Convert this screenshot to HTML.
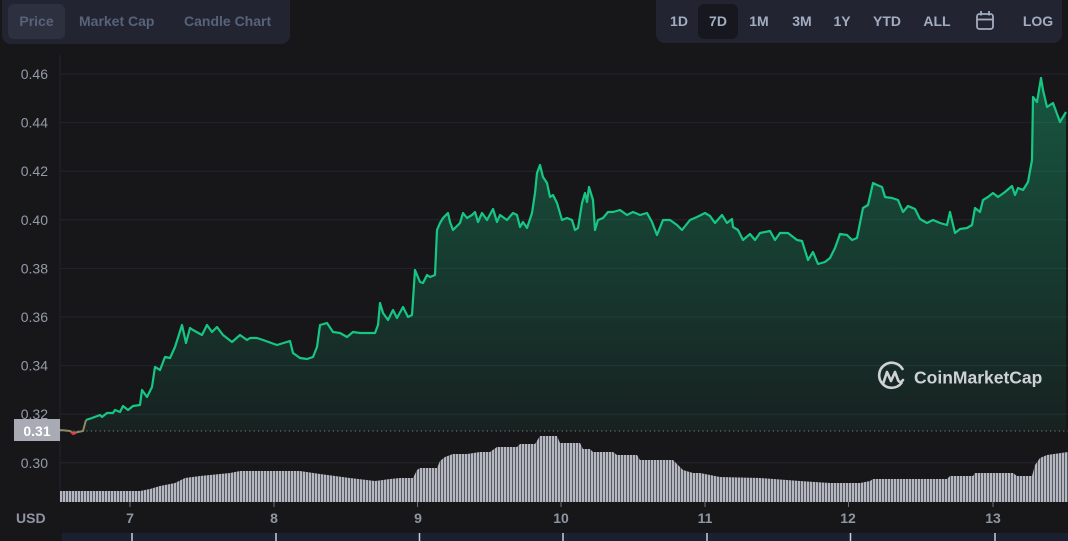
<!DOCTYPE html>
<html><head><meta charset="utf-8">
<style>
html,body{margin:0;padding:0;background:#17171a;}
body{width:1068px;height:541px;overflow:hidden;position:relative;font-family:"Liberation Sans",sans-serif;}
svg{position:absolute;left:0;top:0;}
</style></head>
<body>
<svg width="1068" height="541" viewBox="0 0 1068 541" xmlns="http://www.w3.org/2000/svg">
  <defs>
    <linearGradient id="fillg" gradientUnits="userSpaceOnUse" x1="0" y1="78" x2="0" y2="431">
      <stop offset="0" stop-color="#16c784" stop-opacity="0.36"/>
      <stop offset="1" stop-color="#16c784" stop-opacity="0.06"/>
    </linearGradient>
    <pattern id="vol" patternUnits="userSpaceOnUse" width="3" height="10">
      <rect x="0" y="0" width="3" height="10" fill="#55585f"/>
      <rect x="0" y="0" width="2" height="10" fill="#b4b7bf"/>
    </pattern>
  </defs>
  <rect width="1068" height="541" fill="#17171a"/>

  <!-- top left group -->
  <rect x="2" y="-8" width="288" height="52" rx="9" fill="#222531"/>
  <rect x="8" y="4" width="57" height="35" rx="6" fill="#2c303f"/>
  <g font-family="Liberation Sans, sans-serif" font-size="14" font-weight="bold" fill="#58627a">
    <text x="36.5" y="26" text-anchor="middle">Price</text>
    <text x="79" y="26">Market Cap</text>
    <text x="184" y="26">Candle Chart</text>
  </g>

  <!-- top right group -->
  <rect x="656" y="-8" width="406" height="51" rx="9" fill="#222531"/>
  <rect x="698" y="4" width="40" height="35" rx="6" fill="#17181f"/>
  <g font-family="Liberation Sans, sans-serif" font-size="14" font-weight="bold" fill="#a3adc0" text-anchor="middle">
    <text x="679" y="26">1D</text>
    <text x="718" y="26">7D</text>
    <text x="759" y="26">1M</text>
    <text x="802" y="26">3M</text>
    <text x="842" y="26">1Y</text>
    <text x="887" y="26">YTD</text>
    <text x="937" y="26">ALL</text>
    <text x="1038" y="26">LOG</text>
  </g>
  <g stroke="#a3adc0" stroke-width="1.8" fill="none">
    <rect x="977" y="14" width="16" height="15" rx="2.5"/>
    <line x1="977" y1="19.5" x2="993" y2="19.5"/>
    <line x1="981" y1="11" x2="981" y2="15.5"/>
    <line x1="989" y1="11" x2="989" y2="15.5"/>
  </g>

  <!-- grid -->
  <line x1="60" y1="55" x2="60" y2="502" stroke="#23252e" stroke-width="1"/>
  <g stroke="#23252e" stroke-width="1">
    <line x1="60" y1="74" x2="1068" y2="74"/>
    <line x1="60" y1="122.6" x2="1068" y2="122.6"/>
    <line x1="60" y1="171.2" x2="1068" y2="171.2"/>
    <line x1="60" y1="219.8" x2="1068" y2="219.8"/>
    <line x1="60" y1="268.4" x2="1068" y2="268.4"/>
    <line x1="60" y1="317" x2="1068" y2="317"/>
    <line x1="60" y1="365.6" x2="1068" y2="365.6"/>
    <line x1="60" y1="414.2" x2="1068" y2="414.2"/>
    <line x1="60" y1="462.8" x2="1068" y2="462.8"/>
  </g>
  <g font-family="Liberation Sans, sans-serif" font-size="14" fill="#949aa8" text-anchor="end">
    <text x="48" y="79">0.46</text>
    <text x="48" y="127.6">0.44</text>
    <text x="48" y="176.2">0.42</text>
    <text x="48" y="224.8">0.40</text>
    <text x="48" y="273.4">0.38</text>
    <text x="48" y="322">0.36</text>
    <text x="48" y="370.6">0.34</text>
    <text x="48" y="419.2">0.32</text>
    <text x="48" y="467.8">0.30</text>
  </g>

  <!-- volume -->
  <path fill="url(#vol)" d="M60,502 L60,491 L140,491 L150,489 L160,486 L175,483 L185,478 L200,476 L230,473 L240,471 L300,471 L320,474 L350,478 L375,481 L390,479 L400,478 L413,478 L417,470 L420,468 L437,468 L440,461 L445,457 L453,454 L467,454 L480,452 L490,452 L497,447 L517,447 L520,444 L535,444 L540,436 L557,436 L560,443 L580,443 L583,449 L590,449 L593,452 L613,452 L617,455 L637,455 L640,460 L673,460 L683,470 L693,473 L700,473 L720,477 L760,478 L800,481 L830,483 L860,483 L870,481 L873,479 L947,479 L950,476 L973,476 L975,473 L1013,473 L1017,476 L1032,476 L1035,465 L1040,458 L1047,455 L1068,452 L1068,502 Z"/>

  <!-- area fill -->
  <path fill="url(#fillg)" d="M60,431 L60,430 70,432 73,434 78,432 83,431 86,420 92,418 100,415 102,417 107,413 113,413 115,410 120,412 123,406 128,410 133,406 140,405 142,390 147,397 152,387 155,367 160,370 165,357 170,358 175,347 182,325 186,343 190,328 193,330 202,335 207,325 212,332 217,327 223,335 232,342 240,335 247,340 250,338 257,338 263,340 277,345 290,341 293,353 300,358 307,359 313,357 317,347 320,325 327,323 333,332 340,333 347,337 353,332 360,333 370,333 375,333 378,325 380,303 383,313 388,320 393,310 397,318 403,307 408,317 412,315 415,270 420,282 423,283 427,275 430,277 435,275 437,230 440,223 443,218 448,213 450,222 453,230 460,223 463,213 467,218 472,215 475,212 478,222 482,213 487,220 493,209 497,222 500,215 507,220 513,213 517,215 520,227 523,222 527,228 532,213 535,193 537,173 540,165 543,177 547,183 550,197 553,195 557,203 562,220 567,218 572,220 575,230 578,228 582,203 585,193 587,202 589,187 593,200 595,230 598,220 603,218 608,212 613,212 620,210 627,215 633,212 640,215 647,213 652,222 657,235 663,220 670,220 677,225 682,230 690,220 697,217 705,213 710,216 715,223 722,215 727,223 732,219 733,227 738,230 743,240 750,234 755,240 760,233 770,231 775,240 780,233 788,233 797,240 802,241 808,260 813,252 818,264 825,262 830,258 835,248 840,234 847,235 852,240 857,238 863,208 868,205 873,183 877,185 882,187 885,197 892,198 898,200 903,212 908,206 915,209 920,219 927,223 933,220 940,223 947,225 950,212 955,233 960,229 967,228 972,225 975,208 980,212 983,200 988,197 993,193 998,197 1005,192 1012,186 1015,195 1018,188 1023,190 1028,182 1032,160 1033,97 1037,102 1041,78 1043,90 1047,107 1053,103 1060,122 1066,112 L1066,431 Z"/>

  <!-- baseline dotted -->
  <line x1="60" y1="431" x2="1068" y2="431" stroke="#7a7d87" stroke-width="1" stroke-dasharray="1.2 3.2"/>

  <!-- price line -->
  <polyline fill="none" stroke="#16c784" stroke-width="2.2" stroke-linejoin="round" points="86,420 92,418 100,415 102,417 107,413 113,413 115,410 120,412 123,406 128,410 133,406 140,405 142,390 147,397 152,387 155,367 160,370 165,357 170,358 175,347 182,325 186,343 190,328 193,330 202,335 207,325 212,332 217,327 223,335 232,342 240,335 247,340 250,338 257,338 263,340 277,345 290,341 293,353 300,358 307,359 313,357 317,347 320,325 327,323 333,332 340,333 347,337 353,332 360,333 370,333 375,333 378,325 380,303 383,313 388,320 393,310 397,318 403,307 408,317 412,315 415,270 420,282 423,283 427,275 430,277 435,275 437,230 440,223 443,218 448,213 450,222 453,230 460,223 463,213 467,218 472,215 475,212 478,222 482,213 487,220 493,209 497,222 500,215 507,220 513,213 517,215 520,227 523,222 527,228 532,213 535,193 537,173 540,165 543,177 547,183 550,197 553,195 557,203 562,220 567,218 572,220 575,230 578,228 582,203 585,193 587,202 589,187 593,200 595,230 598,220 603,218 608,212 613,212 620,210 627,215 633,212 640,215 647,213 652,222 657,235 663,220 670,220 677,225 682,230 690,220 697,217 705,213 710,216 715,223 722,215 727,223 732,219 733,227 738,230 743,240 750,234 755,240 760,233 770,231 775,240 780,233 788,233 797,240 802,241 808,260 813,252 818,264 825,262 830,258 835,248 840,234 847,235 852,240 857,238 863,208 868,205 873,183 877,185 882,187 885,197 892,198 898,200 903,212 908,206 915,209 920,219 927,223 933,220 940,223 947,225 950,212 955,233 960,229 967,228 972,225 975,208 980,212 983,200 988,197 993,193 998,197 1005,192 1012,186 1015,195 1018,188 1023,190 1028,182 1032,160 1033,97 1037,102 1041,78 1043,90 1047,107 1053,103 1060,122 1066,112"/>
  <polyline fill="none" stroke="#8a8a6a" stroke-width="2" points="60,430 70,431 73,433 78,432 83,431 86,420"/>
  <polyline fill="none" stroke="#ea3943" stroke-width="2" points="71,432 73,434 76,433"/>

  <!-- 0.31 label -->
  <rect x="14" y="419" width="46" height="22" fill="#a8abb4"/>
  <text x="37" y="436" text-anchor="middle" font-family="Liberation Sans, sans-serif" font-size="14" font-weight="bold" fill="#ffffff">0.31</text>

  <!-- CMC logo -->
  <g fill="none" stroke="#cfd1d6" stroke-width="2.6" stroke-linecap="round" stroke-linejoin="round">
    <path d="M901.5,383 A12.5,12.5 0 1 1 902.5,369"/>
    <path d="M883,384 L887,372 L891,381 L895,372 L898,380 Q900,384 903,380"/>
  </g>
  <text x="914" y="383.5" font-family="Liberation Sans, sans-serif" font-size="17.5" font-weight="bold" fill="#cfd1d6">CoinMarketCap</text>

  <!-- x axis -->
  <g stroke="#6b6f7a" stroke-width="1">
    <line x1="130" y1="502" x2="130" y2="507"/>
    <line x1="274" y1="502" x2="274" y2="507"/>
    <line x1="417.5" y1="502" x2="417.5" y2="507"/>
    <line x1="561" y1="502" x2="561" y2="507"/>
    <line x1="705" y1="502" x2="705" y2="507"/>
    <line x1="848.5" y1="502" x2="848.5" y2="507"/>
    <line x1="993" y1="502" x2="993" y2="507"/>
  </g>
  <g font-family="Liberation Sans, sans-serif" font-size="14" font-weight="bold" fill="#8f95a3" text-anchor="middle">
    <text x="130" y="523">7</text>
    <text x="274" y="523">8</text>
    <text x="418" y="523">9</text>
    <text x="561" y="523">10</text>
    <text x="705" y="523">11</text>
    <text x="848" y="523">12</text>
    <text x="993" y="523">13</text>
  </g>
  <text x="16" y="523" font-family="Liberation Sans, sans-serif" font-size="14" font-weight="bold" fill="#8f95a3">USD</text>

  <!-- bottom strip -->
  <rect x="62" y="533" width="1006" height="8" fill="#1b2031"/>
  <g stroke="#c9ccd3" stroke-width="1.5">
    <line x1="132" y1="533" x2="132" y2="541"/>
    <line x1="276" y1="533" x2="276" y2="541"/>
    <line x1="419.5" y1="533" x2="419.5" y2="541"/>
    <line x1="563" y1="533" x2="563" y2="541"/>
    <line x1="707" y1="533" x2="707" y2="541"/>
    <line x1="850.5" y1="533" x2="850.5" y2="541"/>
    <line x1="995" y1="533" x2="995" y2="541"/>
  </g>
</svg>
</body></html>
